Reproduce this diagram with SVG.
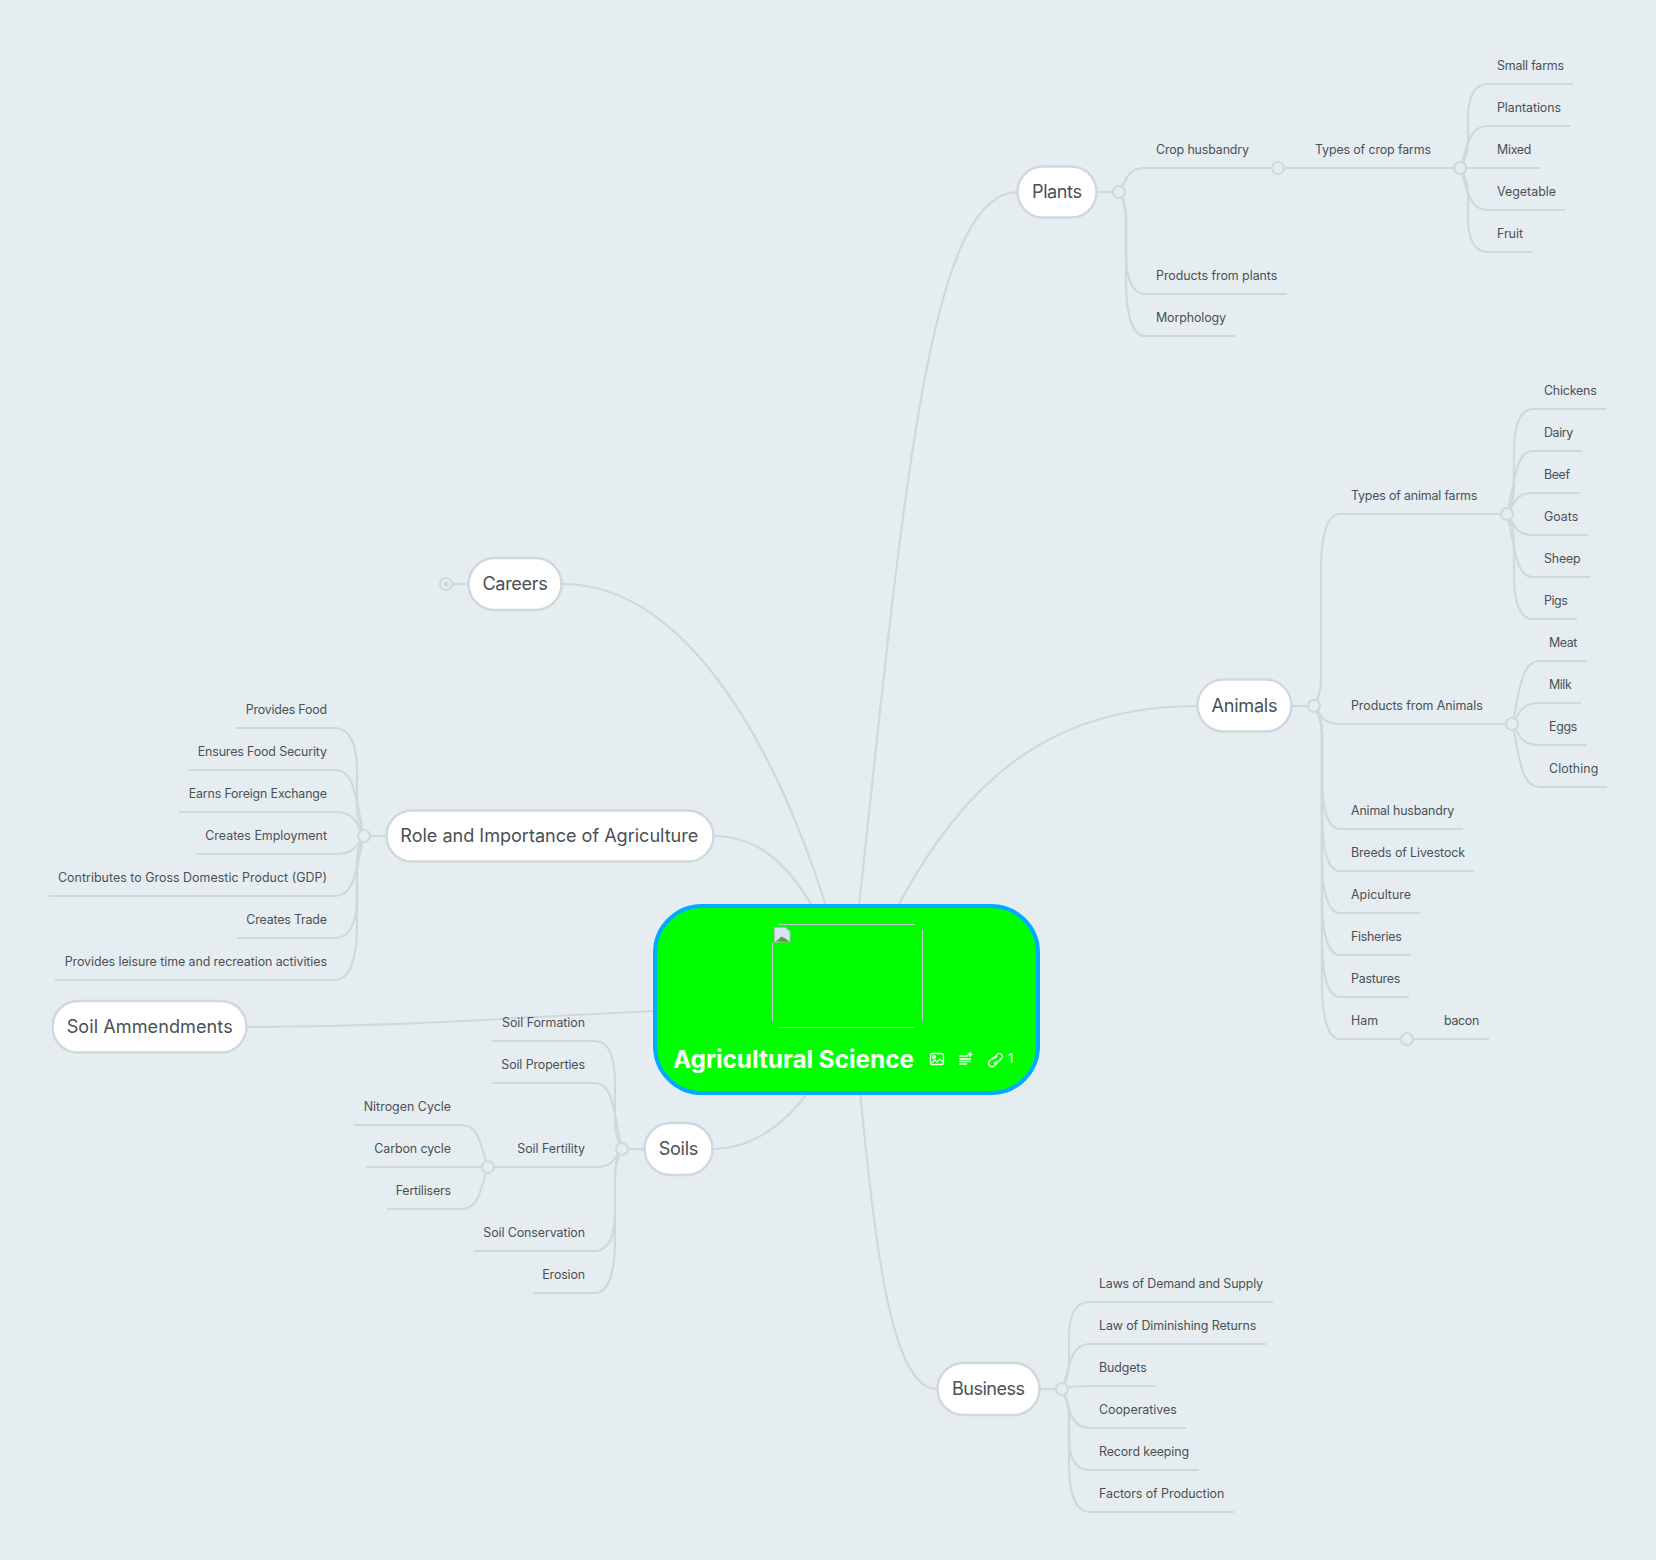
<svg xmlns="http://www.w3.org/2000/svg" width="1656" height="1560" viewBox="0 0 1656 1560">
<style>
text{font-family:"Inter","Liberation Sans",sans-serif;fill:#4a5056}
.l{font-size:12.4px}
.e{text-anchor:end}
.p{font-size:18.1px}
.pill{fill:#fff;stroke:#cfd8dc;stroke-width:2.5}
#connectors path{fill:none;stroke:#cfd8dc;stroke-width:2.2}
.hub{fill:#e6edf1;stroke:#cfd8dc;stroke-width:2.2}
.ic{fill:none;stroke:#fff;stroke-width:1.3;stroke-linecap:round;stroke-linejoin:round}
.fr{fill:none;stroke:#c4c8c4;stroke-width:1}
</style>
<rect width="1656" height="1560" fill="#e6edf1"/>
<g id="connectors">
<path d="M1018 192C930 192 905 480 859 906"/>
<path d="M1197 706C1060 706 970 770 898 906"/>
<path d="M562 584C680 584 770 730 826 906"/>
<path d="M713 836C755 836 785 860 812 906"/>
<path d="M713 1149C750 1149 785 1125 808 1092"/>
<path d="M937 1389C890 1389 875 1240 860 1092"/>
<path d="M247 1027C400 1027 500 1018 655 1011"/>
<path d="M468 584H446"/>
<path d="M1096 192H1119"/>
<path d="M1119 192C1127 180 1127 168 1145 168H1460"/>
<path d="M1119 192C1124 200 1126 208 1126 220V253C1126 278 1132 294 1145 294H1287"/>
<path d="M1119 192C1124 200 1126 208 1126 220V281C1126 314 1132 336 1145 336H1235"/>
<path d="M1460 168C1466 160 1468 152 1468 140V118C1468 98 1474 84 1488 84H1573"/>
<path d="M1460 168C1468 147 1468 126 1488 126H1570"/>
<path d="M1460 168H1540"/>
<path d="M1460 168C1468 189 1468 210 1488 210H1565"/>
<path d="M1460 168C1466 176 1468 184 1468 196V218C1468 238 1474 252 1488 252H1532"/>
<path d="M1291 706H1314"/>
<path d="M1314 706C1319 698 1321 690 1321 678V569C1321 536 1327 514 1340 514H1507"/>
<path d="M1314 706C1322 715 1322 724 1340 724H1512"/>
<path d="M1314 706C1319 714 1322 722 1322 734V780C1322 809 1328 829 1340 829H1463"/>
<path d="M1314 706C1319 714 1322 722 1322 734V816C1322 849 1328 871 1340 871H1474"/>
<path d="M1314 706C1319 714 1322 722 1322 734V858C1322 891 1328 913 1340 913H1420"/>
<path d="M1314 706C1319 714 1322 722 1322 734V900C1322 933 1328 955 1340 955H1411"/>
<path d="M1314 706C1319 714 1322 722 1322 734V942C1322 975 1328 997 1340 997H1409"/>
<path d="M1314 706C1319 714 1322 722 1322 734V984C1322 1017 1328 1039 1340 1039H1489"/>
<path d="M1507 514C1512 506 1514 498 1514 486V451C1514 426 1520 409 1533 409H1606"/>
<path d="M1507 514C1515 482.500 1515 451 1533 451H1582"/>
<path d="M1507 514C1515 503.500 1515 493 1533 493H1580"/>
<path d="M1507 514C1515 524.500 1515 535 1533 535H1588"/>
<path d="M1507 514C1515 545.500 1515 577 1533 577H1590"/>
<path d="M1507 514C1512 522 1514 530 1514 542V577C1514 602 1520 619 1533 619H1577"/>
<path d="M1512 724C1520 692.500 1520 661 1540 661H1587"/>
<path d="M1512 724C1520 713.500 1520 703 1540 703H1581"/>
<path d="M1512 724C1520 734.500 1520 745 1540 745H1587"/>
<path d="M1512 724C1520 755.500 1520 787 1540 787H1607"/>
<path d="M387 836H364"/>
<path d="M364 836C359 828 357 820 357 808V771C357 745 350 728 335 728H236"/>
<path d="M364 836C356 803 356 770 335 770H188"/>
<path d="M364 836C356 824 356 812 335 812H179"/>
<path d="M364 836C356 845 356 854 335 854H196"/>
<path d="M364 836C356 866 356 896 335 896H49"/>
<path d="M364 836C359 844 357 852 357 864V897C357 922 350 938 335 938H237"/>
<path d="M364 836C359 844 357 852 357 864V925C357 958 350 980 335 980H55"/>
<path d="M644 1149H622"/>
<path d="M622 1149C617 1141 615 1133 615 1121V1084C615 1058 609 1041 595 1041H492"/>
<path d="M622 1149C614 1116 614 1083 595 1083H492"/>
<path d="M622 1149C614 1158 614 1167 595 1167H488"/>
<path d="M622 1149C617 1157 615 1165 615 1177V1210C615 1235 609 1251 595 1251H474"/>
<path d="M622 1149C617 1157 615 1165 615 1177V1238C615 1271 609 1293 595 1293H533"/>
<path d="M488 1167C480 1146 480 1125 461 1125H354"/>
<path d="M488 1167H366"/>
<path d="M488 1167C480 1188 480 1209 461 1209H387"/>
<path d="M1040 1389H1062"/>
<path d="M1062 1389C1067 1381 1069 1373 1069 1361V1337C1069 1316 1075 1302 1090 1302H1273"/>
<path d="M1062 1389C1070 1366.500 1070 1344 1090 1344H1266"/>
<path d="M1062 1389C1070 1387.500 1070 1386 1090 1386H1156"/>
<path d="M1062 1389C1070 1408.500 1070 1428 1090 1428H1186"/>
<path d="M1062 1389C1067 1397 1069 1405 1069 1417V1438C1069 1457 1075 1470 1090 1470H1199"/>
<path d="M1062 1389C1067 1397 1069 1405 1069 1417V1463C1069 1492 1075 1512 1090 1512H1234"/>
</g>
<g id="hubs">
<circle class="hub" cx="1119" cy="192" r="6"/>
<circle class="hub" cx="1278" cy="168" r="6"/>
<circle class="hub" cx="1460" cy="168" r="6"/>
<circle class="hub" cx="1314" cy="706" r="6"/>
<circle class="hub" cx="1507" cy="514" r="6"/>
<circle class="hub" cx="1512" cy="724" r="6"/>
<circle class="hub" cx="1407" cy="1039" r="6"/>
<circle class="hub" cx="364" cy="836" r="6"/>
<circle class="hub" cx="622" cy="1149" r="6"/>
<circle class="hub" cx="488" cy="1167" r="6"/>
<circle class="hub" cx="1062" cy="1389" r="6"/>
<circle class="hub" cx="446" cy="584" r="6"/>
<circle cx="446" cy="584" r="2.500" fill="#cfd8dc"/>
</g>
<g id="root">
<rect x="655" y="906" width="383" height="187" rx="47" fill="#00ff00" stroke="#00aaff" stroke-width="4"/>
<path class="fr" d="M778 924.500H915M778 1027.500H915M772.500 942V1021M922.500 930V1021"/>
<path d="M774.500 927.500h11l4.500 4v10.500h-15.500z" fill="#d6e2f6" stroke="#b4b8b4" stroke-width="1"/>
<path d="M775.500 941.500l6-5 4 2 4 3.500z" fill="#5f9e3f"/>
<text x="673" y="1067.500" textLength="241" style="font-size:24.400px;font-weight:700;fill:#fff">Agricultural Science</text>
<g class="ic"><rect x="930.500" y="1053.500" width="13" height="11" rx="2"/><circle cx="934" cy="1057" r="1.300"/><path d="M931 1063l4-3 2 2 3-3 3 3"/></g>
<g class="ic"><path d="M959.500 1056h8M959.500 1059h11M959.500 1061.500h11M959.500 1064h7M970 1052.500v4M968 1054.500h4"/></g>
<g class="ic"><path d="M993 1059l4-4.500a3 3 0 0 1 4.500 4l-7 7a3 3 0 0 1-5-4.500l3.500-3.500"/><path d="M997 1061l-2.500 2.500M995 1058l2-2"/></g>
<text x="1008" y="1063" style="font-size:13px;fill:#fff">1</text>
</g>
<g id="plants"><rect class="pill" x="1017.500" y="166.500" width="79" height="51" rx="25.500"/><text class="p" x="1032" y="198" textLength="50">Plants</text></g>
<g id="animals"><rect class="pill" x="1197.500" y="679.500" width="94" height="52" rx="26"/><text class="p" x="1211.500" y="712" textLength="66">Animals</text></g>
<g id="careers"><rect class="pill" x="468.500" y="558" width="93" height="52" rx="26"/><text class="p" x="482.500" y="590" textLength="65.300">Careers</text></g>
<g id="role"><rect class="pill" x="386.500" y="810.500" width="327" height="51" rx="25.500"/><text class="p" x="400.300" y="842" textLength="298">Role and Importance of Agriculture</text></g>
<g id="soil-amm"><rect class="pill" x="52.500" y="1001" width="194" height="51.500" rx="25.500"/><text class="p" x="66.700" y="1033" textLength="166">Soil Ammendments</text></g>
<g id="soils"><rect class="pill" x="644.500" y="1123" width="68" height="52" rx="26"/><text class="p" x="658.700" y="1155" textLength="39.700">Soils</text></g>
<g id="business"><rect class="pill" x="937.500" y="1363" width="102" height="52" rx="26"/><text class="p" x="952" y="1395" textLength="73">Business</text></g>
<g id="plants-leaves">
<text class="l" x="1156" y="154" textLength="93">Crop husbandry</text>
<text class="l" x="1315" y="154" textLength="116">Types of crop farms</text>
<text class="l" x="1156" y="280" textLength="121.300">Products from plants</text>
<text class="l" x="1156" y="322" textLength="70">Morphology</text>
<text class="l" x="1497" y="70" textLength="67">Small farms</text>
<text class="l" x="1497" y="112" textLength="64">Plantations</text>
<text class="l" x="1497" y="154" textLength="34.400">Mixed</text>
<text class="l" x="1497" y="196" textLength="59">Vegetable</text>
<text class="l" x="1497" y="238" textLength="26">Fruit</text>
</g>
<g id="animals-leaves">
<text class="l" x="1351" y="500" textLength="126.300">Types of animal farms</text>
<text class="l" x="1351" y="710" textLength="131.700">Products from Animals</text>
<text class="l" x="1351" y="815" textLength="103.300">Animal husbandry</text>
<text class="l" x="1351" y="857" textLength="114">Breeds of Livestock</text>
<text class="l" x="1351" y="899" textLength="60">Apiculture</text>
<text class="l" x="1351" y="941" textLength="50.700">Fisheries</text>
<text class="l" x="1351" y="983" textLength="49.300">Pastures</text>
<text class="l" x="1351" y="1025" textLength="27">Ham</text>
<text class="l" x="1444" y="1025" textLength="35.300">bacon</text>
<text class="l" x="1544" y="395" textLength="52.700">Chickens</text>
<text class="l" x="1544" y="437" textLength="29.300">Dairy</text>
<text class="l" x="1544" y="479" textLength="26">Beef</text>
<text class="l" x="1544" y="521" textLength="34.300">Goats</text>
<text class="l" x="1544" y="563" textLength="36.700">Sheep</text>
<text class="l" x="1544" y="605" textLength="23.700">Pigs</text>
<text class="l" x="1549" y="647" textLength="28.300">Meat</text>
<text class="l" x="1549" y="689" textLength="22.700">Milk</text>
<text class="l" x="1549" y="731" textLength="28.300">Eggs</text>
<text class="l" x="1549" y="773" textLength="49.300">Clothing</text>
</g>
<g id="role-leaves">
<text class="l e" x="327" y="714" textLength="81.300">Provides Food</text>
<text class="l e" x="327" y="756" textLength="129.300">Ensures Food Security</text>
<text class="l e" x="327" y="798" textLength="138.300">Earns Foreign Exchange</text>
<text class="l e" x="327" y="840" textLength="121.700">Creates Employment</text>
<text class="l e" x="327" y="882" textLength="269">Contributes to Gross Domestic Product (GDP)</text>
<text class="l e" x="327" y="924" textLength="80.700">Creates Trade</text>
<text class="l e" x="327" y="966" textLength="262.300">Provides leisure time and recreation activities</text>
</g>
<g id="soils-leaves">
<text class="l e" x="585" y="1027" textLength="83">Soil Formation</text>
<text class="l e" x="585" y="1069" textLength="83.700">Soil Properties</text>
<text class="l e" x="585" y="1153" textLength="67.700">Soil Fertility</text>
<text class="l e" x="585" y="1237" textLength="101.700">Soil Conservation</text>
<text class="l e" x="585" y="1279" textLength="42.700">Erosion</text>
<text class="l e" x="451" y="1111" textLength="87.300">Nitrogen Cycle</text>
<text class="l e" x="451" y="1153" textLength="76.700">Carbon cycle</text>
<text class="l e" x="451" y="1195" textLength="55.300">Fertilisers</text>
</g>
<g id="business-leaves">
<text class="l" x="1099" y="1288" textLength="164">Laws of Demand and Supply</text>
<text class="l" x="1099" y="1330" textLength="157.300">Law of Diminishing Returns</text>
<text class="l" x="1099" y="1372" textLength="47.700">Budgets</text>
<text class="l" x="1099" y="1414" textLength="77.700">Cooperatives</text>
<text class="l" x="1099" y="1456" textLength="90">Record keeping</text>
<text class="l" x="1099" y="1498" textLength="125.300">Factors of Production</text>
</g>
</svg>
